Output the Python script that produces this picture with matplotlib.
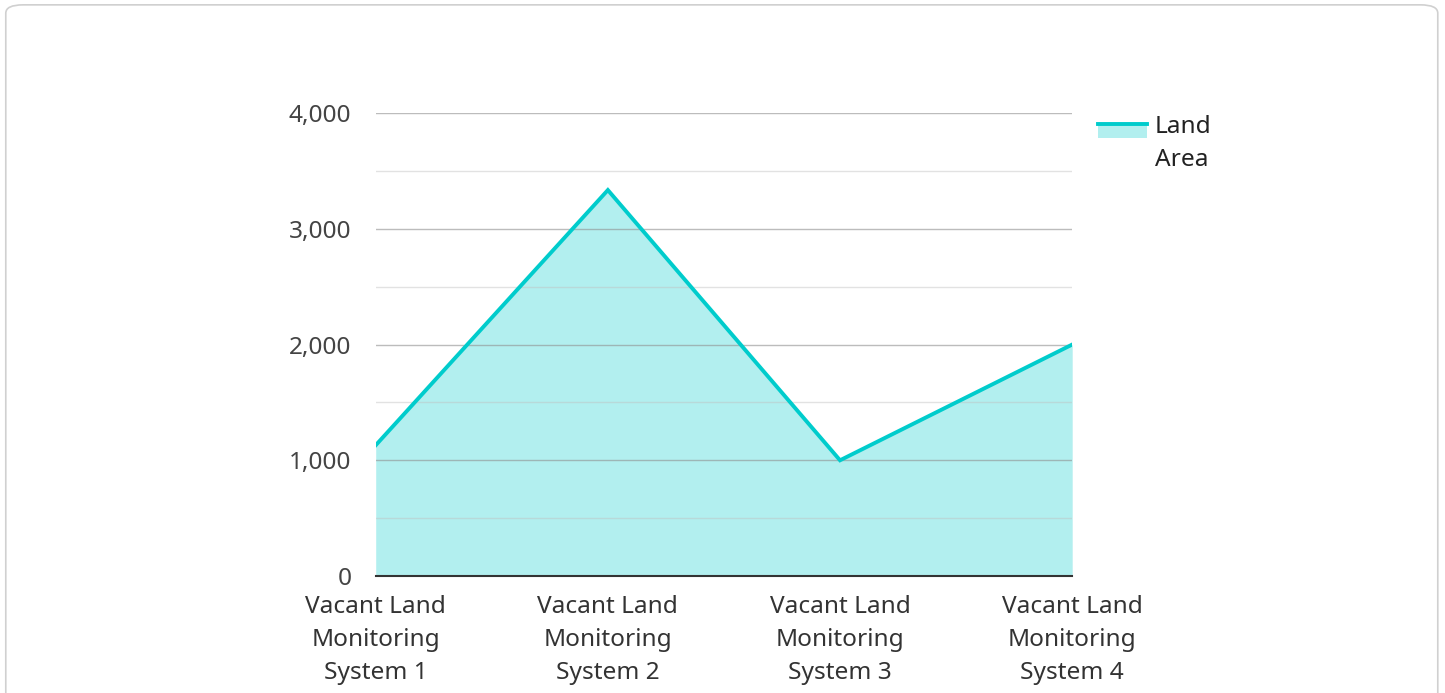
import matplotlib.pyplot as plt
from matplotlib.patches import FancyBboxPatch, Rectangle
from matplotlib.lines import Line2D
from matplotlib.legend_handler import HandlerBase
from matplotlib.ticker import MultipleLocator, FuncFormatter

plt.rcParams['font.family'] = ['Noto Sans', 'DejaVu Sans']

categories = ['Vacant Land\nMonitoring\nSystem 1', 'Vacant Land\nMonitoring\nSystem 2',
              'Vacant Land\nMonitoring\nSystem 3', 'Vacant Land\nMonitoring\nSystem 4']
land_area = [1130, 3335, 1000, 2000]
series_name = 'Land\nArea'

line_color = '#00CCCC'
fill_color = '#B2EFEF'
fs = 17.6


class AreaHandler(HandlerBase):
    # fill swatch with the line sitting on its top edge, raised to the first text line
    def create_artists(self, legend, orig_handle, xdescent, ydescent, width, height, fontsize, trans):
        top = height + 8.5
        rect = Rectangle((-xdescent, top - 10), width, 10, facecolor=fill_color,
                         edgecolor='none', transform=trans)
        line = Line2D([-xdescent, -xdescent + width], [top, top], color=line_color,
                      lw=2.8, transform=trans)
        return [rect, line]


fig = plt.figure(figsize=(14.45, 6.93), dpi=100)
box = FancyBboxPatch((0.004, -0.05), 0.991, 1.043, boxstyle='round,pad=0,rounding_size=0.012',
                     transform=fig.transFigure, facecolor='white', edgecolor='#d0d0d0', lw=1.2,
                     zorder=-10)
fig.add_artist(box)
ax = fig.add_axes([0.260, 0.1688, 0.482, 0.668])
ax.patch.set_alpha(0)

x = list(range(len(categories)))
ax.fill_between(x, land_area, 0, color=fill_color, lw=0, zorder=1)
ax.plot(x, land_area, color=line_color, lw=2.8, zorder=3, solid_joinstyle='miter')

ax.set_xlim(0, len(categories) - 1)
ax.set_ylim(0, 4000)
ax.yaxis.set_major_locator(MultipleLocator(1000))
ax.yaxis.set_minor_locator(MultipleLocator(500))
ax.yaxis.set_major_formatter(FuncFormatter(lambda v, p: f'{int(v):,}'))
ax.grid(axis='y', which='major', color='#909090', alpha=0.6, lw=1, zorder=2)
ax.grid(axis='y', which='minor', color='#c0c0c0', alpha=0.45, lw=1, zorder=2)
ax.set_axisbelow(False)

ax.set_xticks(x)
ax.set_xticklabels(categories, fontsize=fs, color='#333333', linespacing=1.48)
ax.tick_params(axis='y', labelsize=fs, labelcolor='#444444', length=0, pad=17.5)
ax.tick_params(axis='y', which='minor', length=0)
ax.tick_params(axis='x', length=0, pad=14)
for s in ['top', 'right', 'left']:
    ax.spines[s].set_visible(False)
ax.spines['bottom'].set_color('#333333')
ax.spines['bottom'].set_linewidth(1.5)
ax.spines['bottom'].set_zorder(4)

leg = ax.legend([object()], [series_name], handler_map={object: AreaHandler()},
                loc='upper left', bbox_to_anchor=(1.006, 1.043), frameon=False, fontsize=fs,
                handlelength=2.0, handletextpad=0.3, labelcolor='#222222')
for t in leg.get_texts():
    t.set_linespacing(1.5)

fig.savefig('out.png', dpi=100)
